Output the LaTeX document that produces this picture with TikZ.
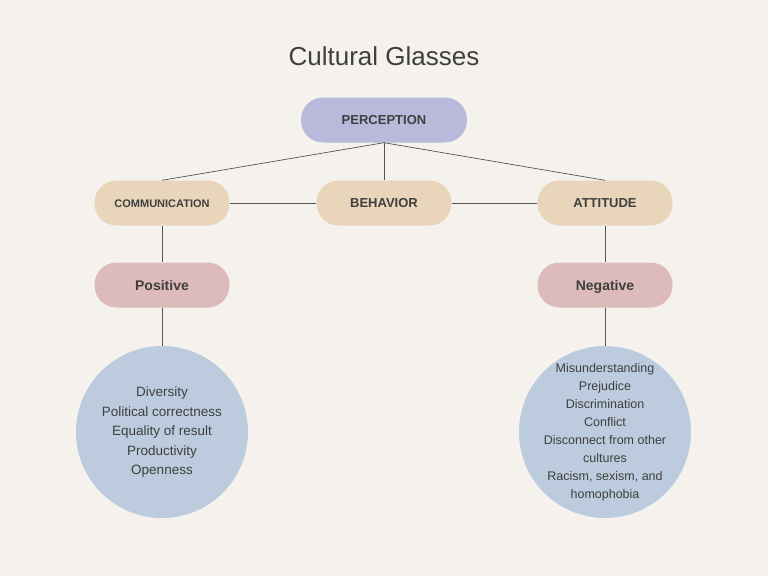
\documentclass[tikz,border=0pt]{standalone}
\usepackage{fontspec}
\setmainfont{Liberation Sans}
\definecolor{paper}{HTML}{F5F2ED}
\definecolor{percblue}{HTML}{B9BADB}
\definecolor{sand}{HTML}{E8D5BA}
\definecolor{rose}{HTML}{DDBBBA}
\definecolor{mist}{HTML}{BCCCDE}
\definecolor{ink}{HTML}{3F3F3F}
\definecolor{wire}{HTML}{555555}
\usetikzlibrary{positioning}

\begin{document}
\begin{tikzpicture}[
  x=1pt, y=-1pt,
  pill/.style={rounded corners=22pt, minimum height=45pt, text=ink, font=\bfseries\fontsize{13}{15}\selectfont, inner sep=0pt, text height=9.5pt, text depth=0pt},
  bubble/.style={circle, fill=mist, minimum size=172pt, inner sep=0pt},
  bubbletext/.style={align=center, text=ink, inner sep=0pt},
  link/.style={draw=wire, line width=0.7pt}
]
  \fill[paper] (0,0) rectangle (768,576);
  \useasboundingbox (0,0) rectangle (768,576);

  \node[text=ink, font=\fontsize{26}{30}\selectfont] (title) at (384,56) {Cultural Glasses};

  \node[pill, fill=percblue, minimum width=166pt] (perception) at (384,120) {PERCEPTION};
  \node[pill, fill=sand, minimum width=135pt, font=\bfseries\fontsize{11}{13}\selectfont, text height=8pt] (communication) at (162,203) {COMMUNICATION};
  \node[pill, fill=sand, minimum width=135pt] (behavior) at (384,203) {BEHAVIOR};
  \node[pill, fill=sand, minimum width=135pt] (attitude) at (605,203) {ATTITUDE};
  \node[pill, fill=rose, minimum width=135pt, font=\bfseries\fontsize{14}{16}\selectfont, text height=10pt] (positive) at (162,285) {Positive};
  \node[pill, fill=rose, minimum width=135pt, font=\bfseries\fontsize{14}{16}\selectfont, text height=10pt] (negative) at (605,285) {Negative};

  \node[bubble] (goodlist) at (162,432) {};
  \node[bubbletext, font=\fontsize{13.5}{19.5}\selectfont] (goodtext) at (162,432.5) {
    Diversity\\ Political correctness\\ Equality of result\\ Productivity\\ Openness
  };
  \node[bubble] (badlist) at (605,432) {};
  \node[bubbletext, font=\fontsize{12.5}{18}\selectfont] (badtext) at (605,432) {
    Misunderstanding\\ Prejudice\\ Discrimination\\ Conflict\\ Disconnect from other\\ cultures\\ Racism, sexism, and\\ homophobia
  };

  % tree
  \draw[link] (perception.south) -- (communication.north);
  \draw[link] (perception.south) -- (behavior.north);
  \draw[link] (perception.south) -- (attitude.north);
  \draw[link] (communication.east) -- (behavior.west);
  \draw[link] (behavior.east) -- (attitude.west);
  \draw[link] (communication.south) -- (positive.north);
  \draw[link] (attitude.south) -- (negative.north);
  \draw[link] (positive.south) -- (goodlist.north);
  \draw[link] (negative.south) -- (badlist.north);
\end{tikzpicture}
\end{document}
